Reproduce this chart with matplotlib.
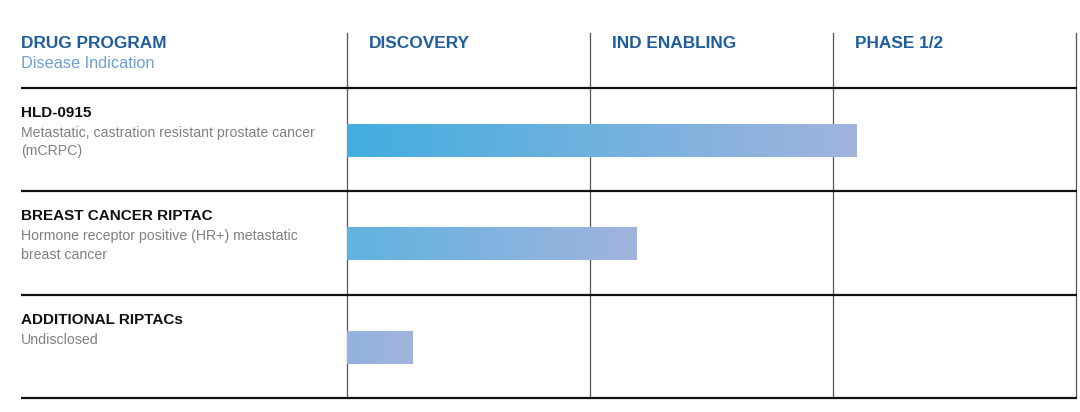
import matplotlib
matplotlib.use("Agg")
import matplotlib.pyplot as plt
import numpy as np
from matplotlib.colors import LinearSegmentedColormap
from matplotlib.patches import Rectangle

# ---- data ----
phases = ["DISCOVERY", "IND ENABLING", "PHASE 1/2"]
programs = ["HLD-0915", "BREAST CANCER RIPTAC", "ADDITIONAL RIPTACs"]
indications = [
    "Metastatic, castration resistant prostate cancer\n(mCRPC)",
    "Hormone receptor positive (HR+) metastatic\nbreast cancer",
    "Undisclosed",
]
progress = [2.095, 1.19, 0.27]  # in phase-column units
bar_start_colors = ["#42AEE0", "#60B2E0", "#93B2DE"]
bar_end_color = "#A1B4DD"

header_left = "DRUG PROGRAM"
header_sub = "Disease Indication"

# ---- figure ----
W, H = 1080, 412
fig = plt.figure(figsize=(W / 100, H / 100), dpi=100)
ax = fig.add_axes([0, 0, 1, 1])
col_px = 243.0
x0_px = 347.0
row_px = 103.3
y0_px = 88.0
ax.axis("off")

fam = ["Liberation Sans", "DejaVu Sans"]
blue = "#1F5D9E"
lightblue = "#6E9FD2"

left_x = (21 - x0_px) / col_px
right_x = (1077 - x0_px) / col_px
top_y = (33 - y0_px) / row_px
nrows = len(programs)
ncols = len(phases)

# grid lines
for i in range(nrows + 1):
    ax.plot([left_x, right_x], [i, i], color="#111111", lw=1.6, solid_capstyle="butt", zorder=3)
for j in range(ncols + 1):
    ax.plot([j, j], [top_y, nrows], color="#555555", lw=0.9, zorder=2)

# headers
hy = (43 - y0_px) / row_px
ax.text(left_x, hy, header_left, fontsize=12.4, fontweight="bold", color=blue,
        family=fam, va="center", ha="left")
ax.text(left_x, (63.5 - y0_px) / row_px, header_sub, fontsize=11.7, color=lightblue,
        family=fam, va="center", ha="left")
for j, p in enumerate(phases):
    ax.text(j + 22 / col_px, hy, p, fontsize=12.4, fontweight="bold", color=blue,
            family=fam, va="center", ha="left")

# rows
bar_top = 36 / row_px
bar_h = 33 / row_px
for i, (name, ind, val) in enumerate(zip(programs, indications, progress)):
    ax.text(left_x, i + 25 / row_px, name, fontsize=11, fontweight="bold", color="#111111",
            family=fam, va="center", ha="left")
    ax.text(left_x, i + 38 / row_px, ind, fontsize=10.2, color="#808080",
            family=fam, va="top", ha="left", linespacing=1.4)
    # gradient bar
    cmap = LinearSegmentedColormap.from_list("g%d" % i, [bar_start_colors[i], bar_end_color])
    grad = np.linspace(0, 1, 256).reshape(1, -1)
    y_top = i + bar_top
    im = ax.imshow(grad, cmap=cmap, aspect="auto",
                   extent=[0, val, y_top + bar_h, y_top], zorder=4, interpolation="bilinear")
    rect = Rectangle((0, y_top), val, bar_h, facecolor="none", edgecolor="none")
    ax.add_patch(rect)
    im.set_clip_path(rect)

ax.set_xlim(-x0_px / col_px, (W - x0_px) / col_px)
ax.set_ylim((H - y0_px) / row_px, -y0_px / row_px)

fig.savefig("out.png", dpi=100, facecolor="white")
